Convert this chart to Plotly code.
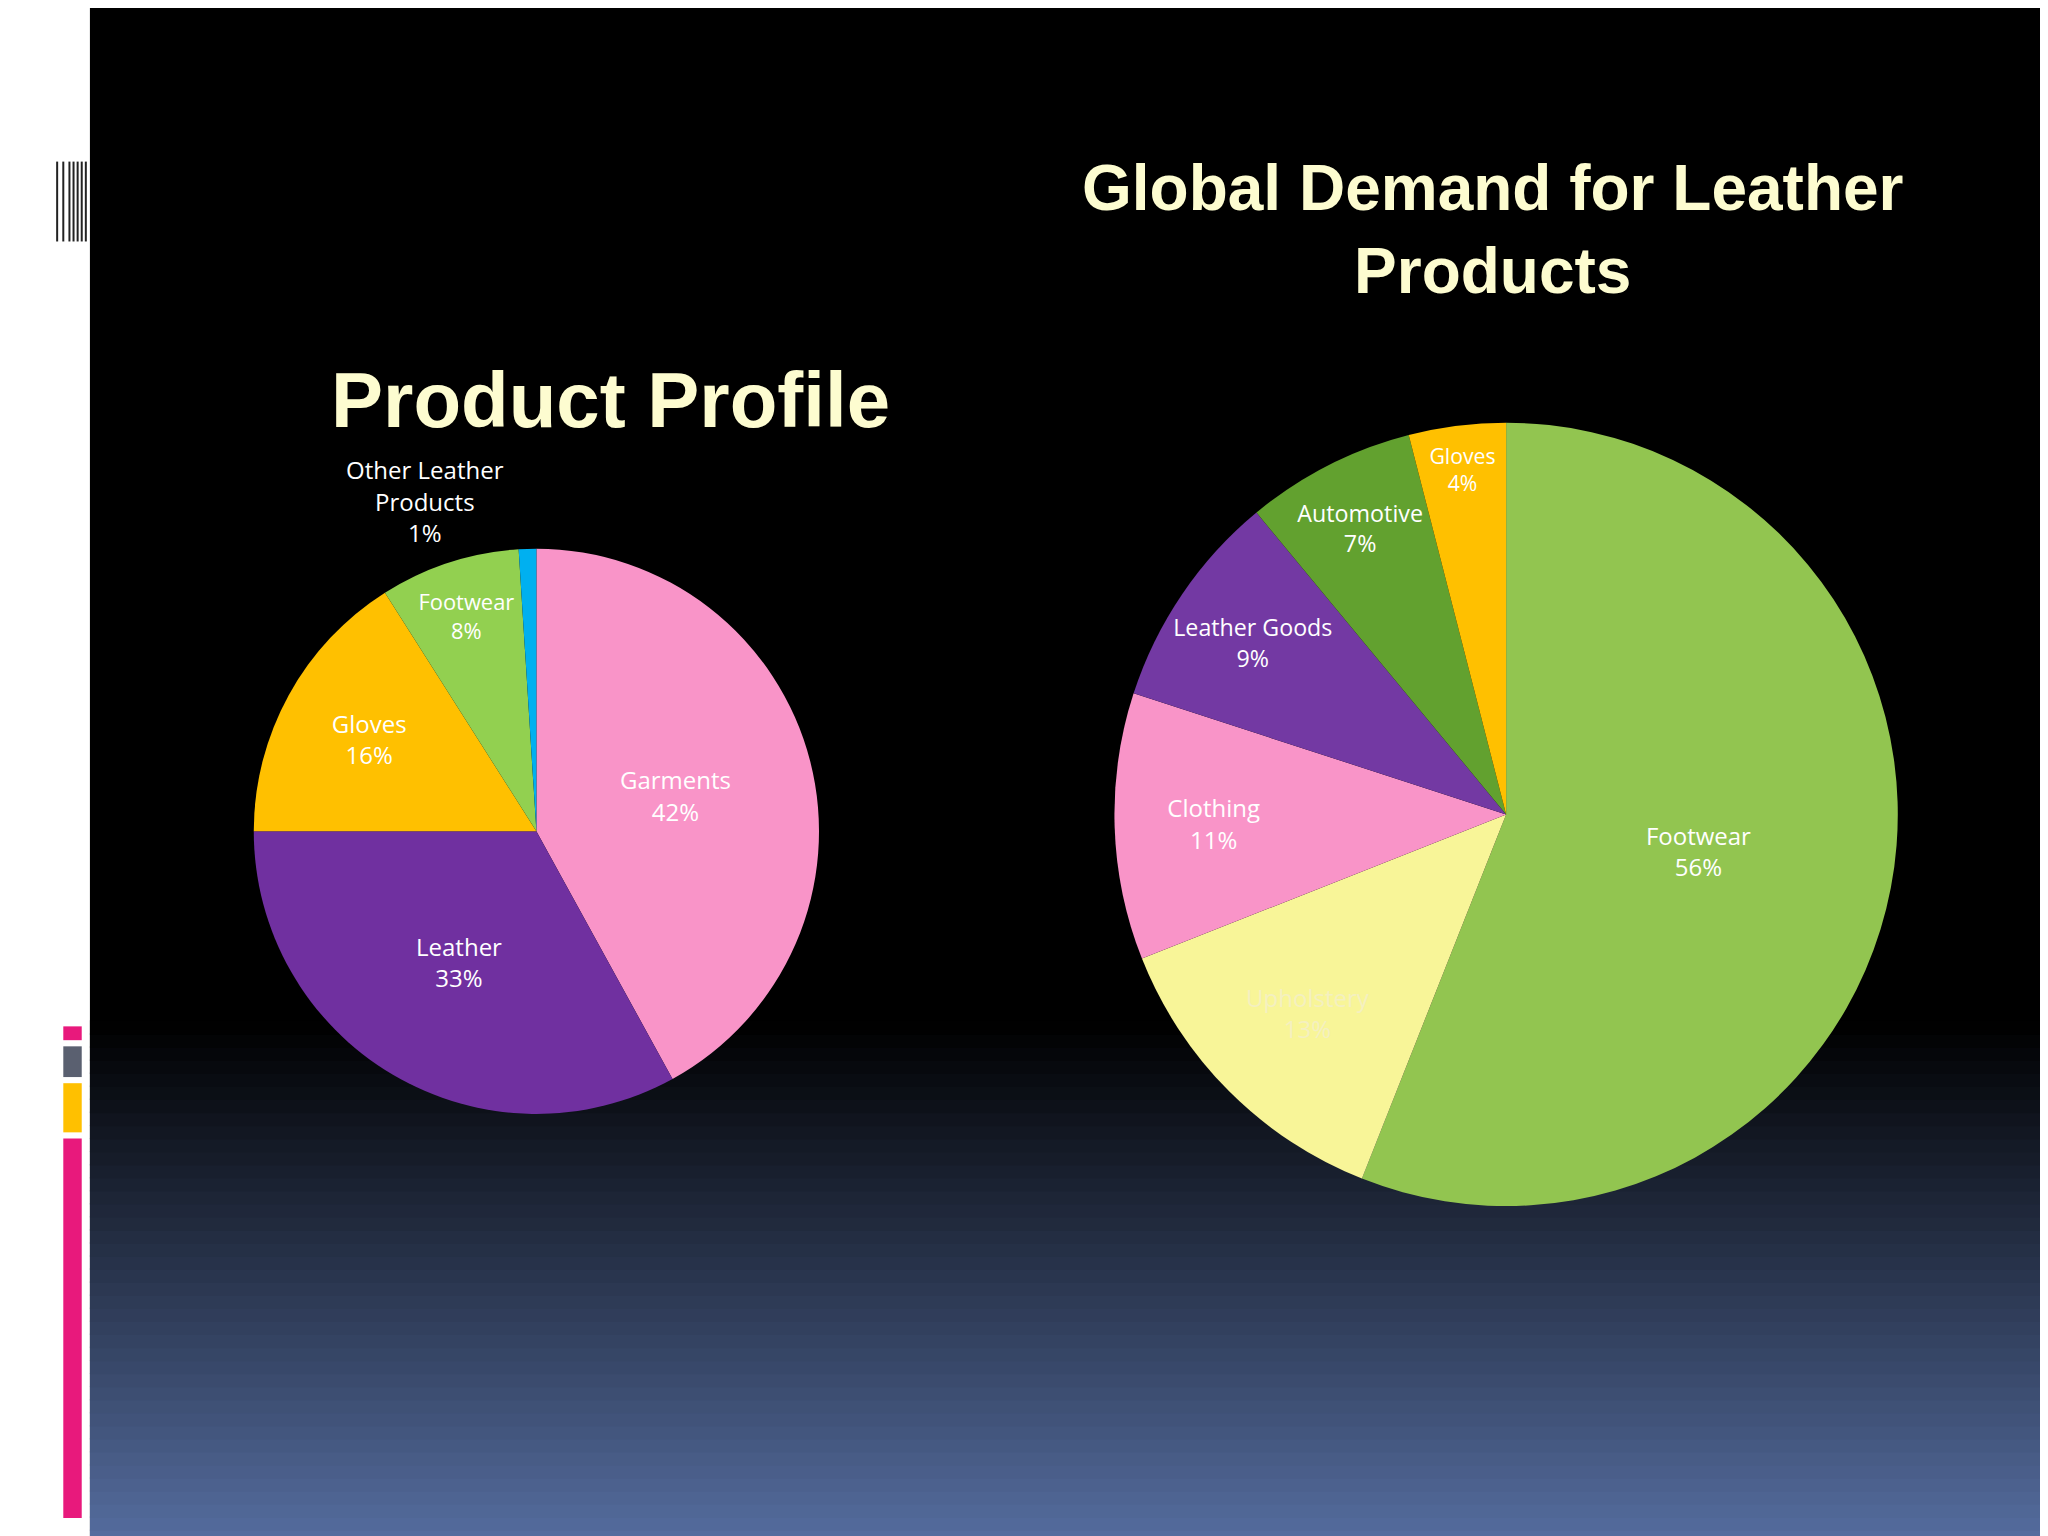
import plotly.graph_objects as go

left_labels = ["Garments", "Leather", "Gloves", "Footwear", "Other Leather<br>Products"]
left_values = [42, 33, 16, 8, 1]
left_colors = ["#f994c8", "#7030a0", "#ffc000", "#92d050", "#00b0f0"]

right_labels = ["Footwear", "Upholstery", "Clothing", "Leather Goods", "Automotive", "Gloves"]
right_values = [56, 13, 11, 9, 7, 4]
right_colors = ["#92c550", "#f8f598", "#f994c8", "#7339a3", "#62a12f", "#ffc000"]

fig = go.Figure()
fig.add_trace(go.Pie(
    labels=left_labels, values=left_values, sort=False, direction="clockwise", rotation=0,
    marker=dict(colors=left_colors, line=dict(width=0)),
    texttemplate="%{label}<br>%{percent:.0%}",
    textposition=["inside", "inside", "inside", "inside", "outside"],
    insidetextorientation="horizontal",
    textfont=dict(color="white", size=24, family="Open Sans"),
    domain=dict(x=[0.12, 0.396], y=[0.28, 0.648]), showlegend=False, hoverinfo="label+percent",
))
fig.add_trace(go.Pie(
    labels=right_labels, values=right_values, sort=False, direction="clockwise", rotation=0,
    marker=dict(colors=right_colors, line=dict(width=0)),
    texttemplate="%{label}<br>%{percent:.0%}",
    textposition="inside", insidetextorientation="horizontal",
    textfont=dict(color=["white", "#f4f0c0", "white", "white", "white", "white"], size=24, family="Open Sans"),
    domain=dict(x=[0.54, 0.923], y=[0.22, 0.73]), showlegend=False, hoverinfo="label+percent",
))

shapes = [dict(type="rect", xref="paper", yref="paper", x0=0, x1=0.04, y0=0, y1=1,
               fillcolor="white", line=dict(width=0), layer="below")]
n = 40
top_c = (0, 0, 0)
bot_c = (86, 110, 160)
start = 0.34
for i in range(n):
    y0 = start * i / n
    y1 = start * (i + 1) / n
    t = 1 - (i + 0.5) / n
    c = tuple(int(top_c[k] + (bot_c[k] - top_c[k]) * t) for k in range(3))
    shapes.append(dict(type="rect", xref="paper", yref="paper", x0=0.04, x1=1, y0=y0, y1=y1 + 0.001,
                       fillcolor="rgb(%d,%d,%d)" % c, line=dict(width=0), layer="below"))
for x0, x1, y0, y1, col in [
    (0.027, 0.036, 0.017, 0.264, "#e8197c"),
    (0.027, 0.036, 0.268, 0.300, "#ffc000"),
    (0.027, 0.036, 0.304, 0.324, "#5a6070"),
    (0.027, 0.036, 0.328, 0.337, "#e8197c"),
]:
    shapes.append(dict(type="rect", xref="paper", yref="paper", x0=x0, x1=x1, y0=y0, y1=y1,
                       fillcolor=col, line=dict(width=0)))
for xx in [0.024, 0.027, 0.030, 0.032, 0.034, 0.036, 0.038]:
    shapes.append(dict(type="line", xref="paper", yref="paper", x0=xx, x1=xx, y0=0.848, y1=0.9,
                       line=dict(color="#222", width=2)))

fig.update_layout(
    width=2048, height=1536, margin=dict(l=0, r=0, t=0, b=0),
    paper_bgcolor="black", shapes=shapes,
    annotations=[
        dict(text="<b>Product Profile</b>", x=0.294, y=0.745, xref="paper", yref="paper",
             xanchor="center", yanchor="middle",
             showarrow=False, font=dict(family="Liberation Sans", size=78, color="#fdfcd0")),
        dict(text="<b>Global Demand for Leather<br>Products</b>", x=0.725, y=0.856, xref="paper", yref="paper",
             xanchor="center", yanchor="middle",
             showarrow=False, font=dict(family="Liberation Sans", size=64, color="#fdfcd0")),
    ],
)
fig.write_html("out.html")
